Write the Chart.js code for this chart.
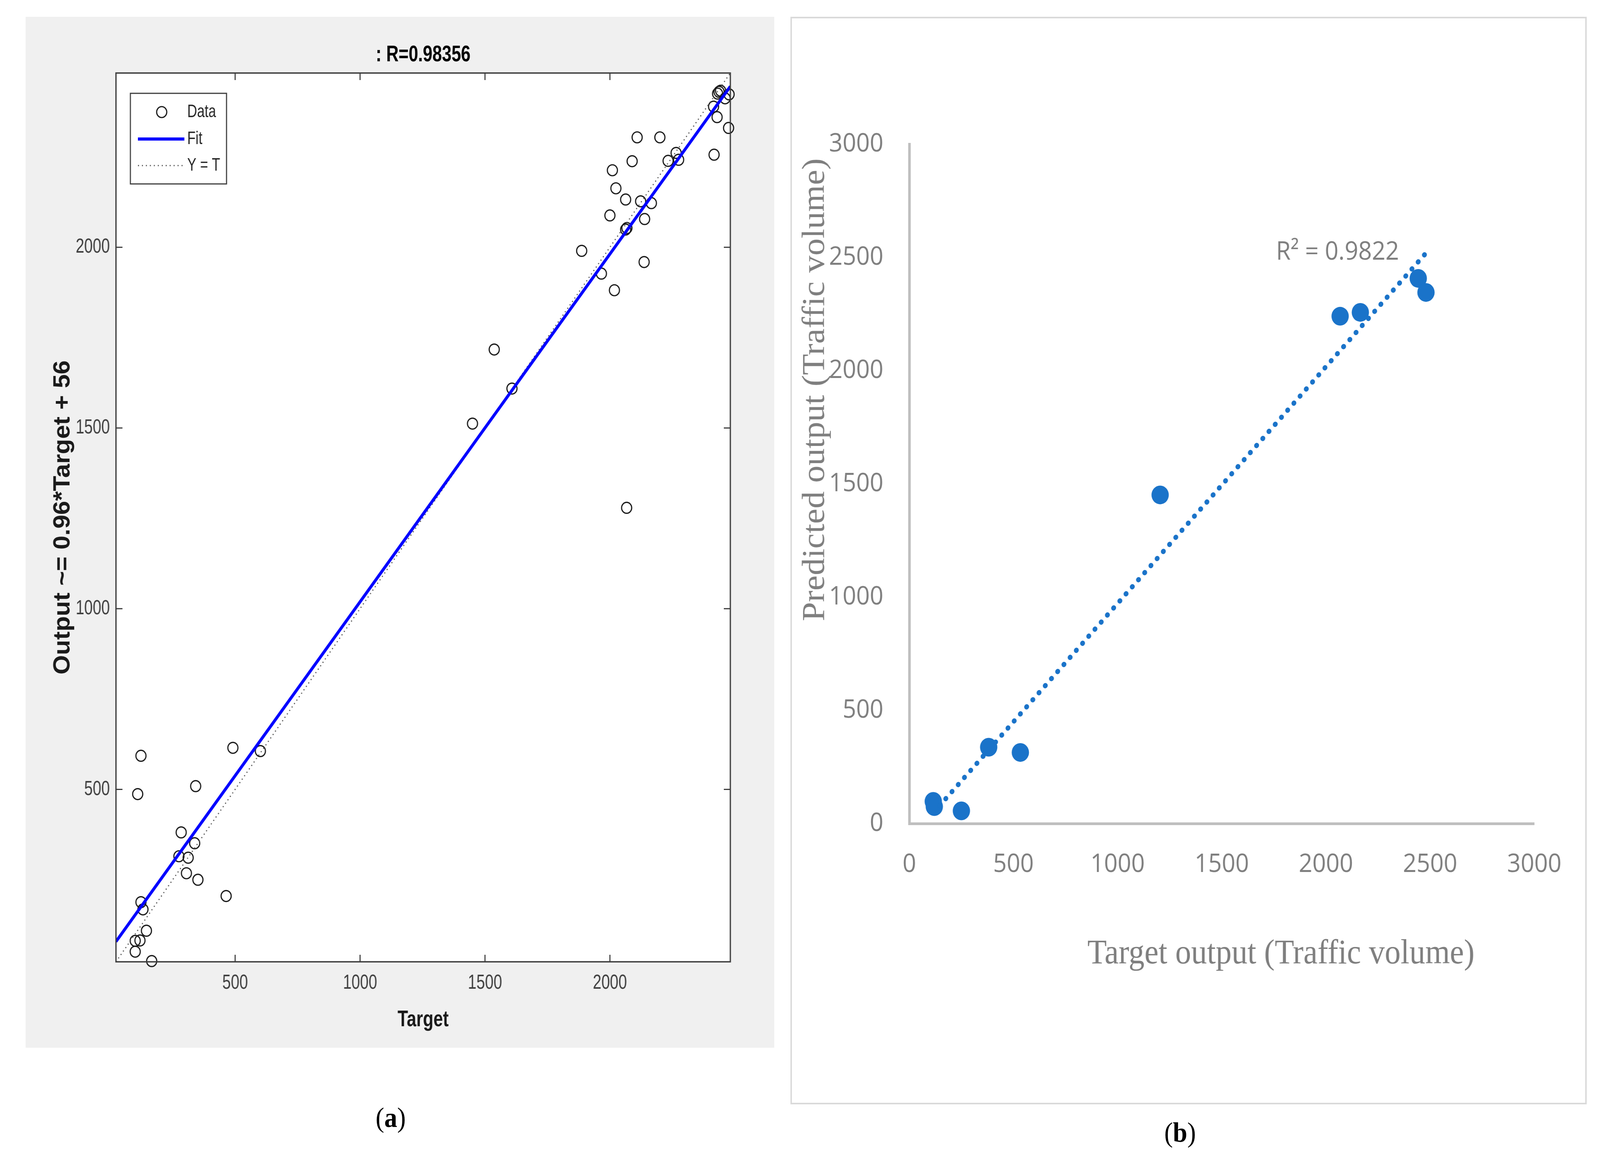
<!DOCTYPE html>
<html>
<head>
<meta charset="utf-8">
<title>Regression plots</title>
<script src="https://cdn.jsdelivr.net/npm/chart.js@4.4.1/dist/chart.umd.min.js"></script>
<style>
html, body { margin: 0; padding: 0; background: #fff; overflow: hidden; height: 100%; }
#viewport { position: relative; width: 100vw; height: 100vh; overflow: hidden; }
#page { position: absolute; left: 0; top: 0; width: 4443px; height: 2968px; transform-origin: 0 0; background: #fff; }
#panelA { position: absolute; left: 71px; top: 43px; width: 2079px; height: 2640px; background: #f0f0f0; }
#panelB { position: absolute; left: 2195px; top: 43px; width: 2203px; height: 2777px; border: 4px solid #d9d9d9; background: #fff; }
canvas { display: block; }
.cap { position: absolute; font-family: "Liberation Serif", "Times New Roman", serif; font-size: 72px; color: #000; transform: translate(-50%, -50%); }
</style>
</head>
<body>
<div id="viewport">
<div id="page">
  <div id="panelA"><canvas id="chartA" width="2079" height="2640"></canvas></div>
  <div id="panelB"><canvas id="chartB" width="2203" height="2777"></canvas></div>
  <div class="cap" style="left:1085px; top:2862px;">(<b>a</b>)</div>
  <div class="cap" style="left:3277px; top:2900px;">(<b>b</b>)</div>
</div>
</div>

<script>
// ---- panel (a): network output vs target ----
var targetA = [123, 110, 491, 601, 342, 284, 338, 275, 312, 305, 351, 464, 123, 131, 145, 100, 119, 100, 166,
               1450, 1537, 1608, 2067,
               1887, 1966, 2018, 2137, 2063, 2068, 2000, 2139, 2166, 2123, 2063, 2024, 2010, 2089,
               2109, 2200, 2233, 2265, 2275, 2417, 2475, 2429, 2415, 2431, 2461, 2477, 2437, 2443];
var outputA = [593, 487, 615, 606, 509, 381, 351, 315, 311, 268, 250, 205, 188, 168, 109, 81, 82, 51, 25,
               1512, 1717, 1609, 1279,
               1990, 1927, 1881, 1959, 2049, 2053, 2088, 2078, 2122, 2127, 2132, 2163, 2213, 2238,
               2304, 2304, 2239, 2261, 2242, 2256, 2330, 2360, 2389, 2425, 2412, 2423, 2430, 2433];
var fitX = [23, 2482];
var fitY = [79, 2445];
var identityX = [23, 2482];
var limitsA = [23, 2482];
var ticksA = [500, 1000, 1500, 2000];
var titleA = ': R=0.98356';
var xTitleA = 'Target';
var yTitleA = 'Output ~= 0.96*Target + 56';

// ---- panel (b): predicted vs target traffic volume ----
var targetB = [115, 120, 250, 381, 533, 1204, 2068, 2165, 2443, 2480];
var predictedB = [98, 75, 56, 337, 314, 1451, 2240, 2257, 2407, 2345];
var trendX = [115, 2480];
var trendY = [47, 2519];
var ticksB = [0, 500, 1000, 1500, 2000, 2500, 3000];
var xTitleB = 'Target output (Traffic volume)';
var yTitleB = 'Predicted output (Traffic volume)';
var r2Label = 'R\u00b2 = 0.9822';

// stretch the 4443 x 2968 layout over the window the page actually gets
var SX = window.innerWidth / 4443, SY = window.innerHeight / 2968;
document.getElementById('page').style.transform = 'scale(' + SX + ',' + SY + ')';

var SANS = '"Liberation Sans", Arial, sans-serif';
var SQUISH = 0.82; // the MATLAB export is horizontally compressed

function pts(xs, ys) {
    return xs.map(function (x, i) { return { x: x, y: ys[i] }; });
}

function narrowText(ctx, text, x, y, align) {
    ctx.save();
    ctx.translate(x, y);
    ctx.scale(SQUISH, 1);
    ctx.textAlign = align;
    ctx.textBaseline = 'middle';
    ctx.fillText(text, 0, 0);
    ctx.restore();
}

// white plot box, inward ticks on all sides, narrow labels and the boxed legend
var matlabAxes = {
    id: 'matlabAxes',
    beforeDraw: function (chart) {
        var a = chart.chartArea, ctx = chart.ctx;
        ctx.save();
        ctx.fillStyle = '#fff';
        ctx.fillRect(a.left, a.top, a.right - a.left, a.bottom - a.top);
        ctx.restore();
    },
    afterDatasetsDraw: function (chart) {
        var a = chart.chartArea, ctx = chart.ctx;
        var xs = chart.scales.x, ys = chart.scales.y;
        var len = 18;
        var cx = (a.left + a.right) / 2;
        ctx.save();
        ctx.strokeStyle = '#3c3c3c';
        ctx.lineWidth = 3.5;
        ctx.strokeRect(a.left, a.top, a.right - a.left, a.bottom - a.top);
        ctx.lineWidth = 3;
        ctx.beginPath();
        xs.ticks.forEach(function (t) {
            var px = xs.getPixelForValue(t.value);
            ctx.moveTo(px, a.bottom); ctx.lineTo(px, a.bottom - len);
            ctx.moveTo(px, a.top); ctx.lineTo(px, a.top + len);
        });
        ys.ticks.forEach(function (t) {
            var py = ys.getPixelForValue(t.value);
            ctx.moveTo(a.left, py); ctx.lineTo(a.left + len, py);
            ctx.moveTo(a.right, py); ctx.lineTo(a.right - len, py);
        });
        ctx.stroke();

        // tick labels
        ctx.fillStyle = '#404040';
        ctx.font = '52px ' + SANS;
        xs.ticks.forEach(function (t) {
            narrowText(ctx, String(t.value), xs.getPixelForValue(t.value), a.bottom + 55, 'center');
        });
        ys.ticks.forEach(function (t) {
            narrowText(ctx, String(t.value), a.left - 17, ys.getPixelForValue(t.value), 'right');
        });

        // title and x label
        ctx.fillStyle = '#000';
        ctx.font = 'bold 58px ' + SANS;
        narrowText(ctx, titleA, cx, a.top - 46, 'center');
        ctx.fillStyle = '#1a1a1a';
        narrowText(ctx, xTitleA, cx, a.bottom + 149, 'center');

        // legend
        var lx = a.left + 40, ly = a.top + 52;
        ctx.fillStyle = '#fff';
        ctx.fillRect(lx, ly, 267, 232);
        ctx.strokeStyle = '#3c3c3c';
        ctx.lineWidth = 3;
        ctx.strokeRect(lx, ly, 267, 232);
        var rows = [48, 117, 185];
        ctx.font = '46px ' + SANS;
        chart.data.datasets.forEach(function (ds, i) {
            var y = ly + rows[i];
            ctx.save();
            ctx.strokeStyle = ds.borderColor;
            if (ds.type === 'line') {
                ctx.lineWidth = ds.borderWidth;
                ctx.setLineDash(ds.borderDash || []);
                ctx.beginPath();
                ctx.moveTo(lx + 21, y);
                ctx.lineTo(lx + 150, y);
                ctx.stroke();
            } else {
                ctx.lineWidth = ds.pointBorderWidth;
                ctx.beginPath();
                ctx.arc(lx + 87, y, ds.pointRadius, 0, Math.PI * 2);
                ctx.stroke();
            }
            ctx.restore();
            ctx.fillStyle = '#262626';
            narrowText(ctx, ds.label, lx + 158, y, 'left');
        });
        ctx.restore();
    }
};

var chartA = new Chart(document.getElementById('chartA'), {
    type: 'scatter',
    data: {
        datasets: [
            {
                label: 'Data',
                data: pts(targetA, outputA),
                pointStyle: 'circle',
                pointRadius: 14,
                pointBorderWidth: 3.2,
                borderColor: '#1a1a1a',
                backgroundColor: 'rgba(0,0,0,0)',
                clip: false,
                order: 2
            },
            {
                label: 'Fit',
                type: 'line',
                data: pts(fitX, fitY),
                borderColor: '#0000ff',
                borderWidth: 8,
                pointRadius: 0,
                order: 0
            },
            {
                label: 'Y = T',
                type: 'line',
                data: pts(identityX, identityX),
                borderColor: '#555555',
                borderWidth: 3,
                borderDash: [3, 8],
                pointRadius: 0,
                order: 1
            }
        ]
    },
    options: {
        responsive: false,
        animation: false,
        devicePixelRatio: 1,
        layout: { padding: { left: 0, right: 122, top: 144, bottom: 0 } },
        plugins: {
            legend: { display: false },
            tooltip: { enabled: false }
        },
        scales: {
            x: {
                type: 'linear',
                min: limitsA[0],
                max: limitsA[1],
                afterBuildTicks: function (s) { s.ticks = ticksA.map(function (v) { return { value: v }; }); },
                afterFit: function (s) { s.height = 220; },
                grid: { display: false, drawTicks: false },
                border: { display: false },
                ticks: { display: false }
            },
            y: {
                type: 'linear',
                min: limitsA[0],
                max: limitsA[1],
                afterBuildTicks: function (s) { s.ticks = ticksA.map(function (v) { return { value: v }; }); },
                afterFit: function (s) { s.width = 251; },
                grid: { display: false, drawTicks: false },
                border: { display: false },
                ticks: { display: false },
                title: {
                    display: true,
                    text: yTitleA,
                    color: '#1a1a1a',
                    font: { family: SANS, size: 64, weight: 'bold' },
                    padding: { top: 66, bottom: 0 }
                }
            }
        }
    },
    plugins: [matlabAxes]
});

// axis titles and the R² note of the Excel chart
var excelText = {
    id: 'excelText',
    afterDraw: function (chart) {
        var a = chart.chartArea, ctx = chart.ctx;
        var xs = chart.scales.x, ys = chart.scales.y;
        ctx.save();
        ctx.fillStyle = '#7f7f7f';
        ctx.textBaseline = 'middle';
        ctx.textAlign = 'left';
        ctx.font = '66px "Open Sans", sans-serif';
        ctx.fillText(r2Label, xs.getPixelForValue(1760), ys.getPixelForValue(2522));

        ctx.font = '88px "Liberation Serif", "Times New Roman", serif';
        ctx.textAlign = 'center';
        ctx.fillText(xTitleB, a.left + 1032, a.bottom + 335);
        ctx.translate(a.left - 260, a.top + 629);
        ctx.rotate(-Math.PI / 2);
        ctx.fillText(yTitleB, 0, 0);
        ctx.restore();
    }
};

function axisB(size, pad) {
    return {
        type: 'linear',
        min: 0,
        max: 3000,
        afterBuildTicks: function (s) { s.ticks = ticksB.map(function (v) { return { value: v }; }); },
        afterFit: size,
        grid: { display: true, drawOnChartArea: false, drawTicks: false },
        border: { display: true, color: '#bfbfbf', width: 7 },
        ticks: {
            padding: pad,
            color: '#7f7f7f',
            font: { family: '"Open Sans", sans-serif', size: 66 },
            callback: function (v) { return String(v); }
        }
    };
}

var chartB = new Chart(document.getElementById('chartB'), {
    type: 'scatter',
    data: {
        datasets: [
            {
                label: 'Predicted output',
                data: pts(targetB, predictedB),
                pointRadius: 24,
                pointBorderWidth: 0,
                backgroundColor: '#1a73c9',
                borderColor: '#1a73c9',
                order: 1
            },
            {
                label: 'Linear trend',
                type: 'line',
                data: pts(trendX, trendY),
                borderColor: '#1a73c9',
                borderWidth: 13,
                borderDash: [1, 24],
                borderCapStyle: 'round',
                pointRadius: 0,
                order: 0
            }
        ]
    },
    options: {
        responsive: false,
        animation: false,
        devicePixelRatio: 1,
        layout: { padding: { left: 0, right: 137, top: 322, bottom: 0 } },
        plugins: {
            legend: { display: false },
            tooltip: { enabled: false }
        },
        scales: {
            x: axisB(function (s) { s.height = 715; }, 66),
            y: axisB(function (s) { s.width = 326; }, 72)
        }
    },
    plugins: [excelText]
});
</script>
</body>
</html>
